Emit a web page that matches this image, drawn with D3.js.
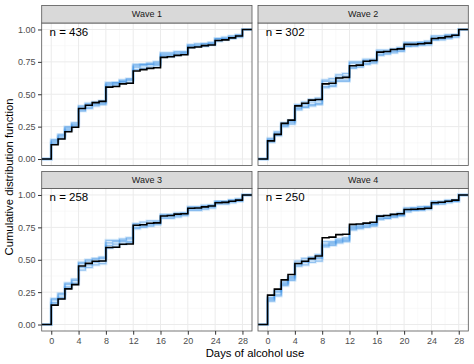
<!DOCTYPE html>
<meta charset="utf-8">
<style>
body { margin: 0; background: #fff; }
svg { font-family: "Liberation Sans", Arial, sans-serif; }
.grid-major { stroke: #ebebeb; stroke-width: 1; }
.grid-minor { stroke: #f5f5f5; stroke-width: 0.6; }
.panel-border { fill: none; stroke: #555; stroke-width: 0.8; }
.strip { fill: #d9d9d9; stroke: #555; stroke-width: 0.8; }
.strip-text { fill: #1a1a1a; font-size: 9px; text-anchor: middle; }
.axis path { display: none; }
.axis line { stroke: #333; }
.axis text { fill: #4d4d4d; font-size: 9px; }
.yrep-halo { fill: none; stroke: #9ccaf5; stroke-width: 3; stroke-opacity: 0.35; }
.yrep { fill: none; stroke: #3b8fe3; stroke-width: 1.2; stroke-opacity: 0.45; }
.obs { fill: none; stroke: #000; stroke-width: 1.6; }
</style>
<svg width="474" height="364"></svg>
<script src="https://d3js.org/d3.v7.min.js"></script>
<script>
var days = [0,1,2,3,4,5,6,7,8,9,10,11,12,13,14,15,16,17,18,19,20,21,22,23,24,25,26,27,28];
var waves = ["Wave 1", "Wave 2", "Wave 3", "Wave 4"];
var nLabels = [436, 302, 258, 250];
var xTicks = [0,4,8,12,16,20,24,28];
var yTicks = [0, 0.25, 0.5, 0.75, 1];

// observed ECDF per wave (value at each day)
var obs1 = [0.11,0.155,0.21,0.245,0.39,0.415,0.435,0.445,0.555,0.56,0.58,0.585,0.68,0.69,0.70,0.705,0.785,0.79,0.80,0.805,0.86,0.865,0.875,0.88,0.915,0.92,0.935,0.95,1];
var obs2 = [0.14,0.19,0.275,0.30,0.41,0.43,0.455,0.46,0.58,0.585,0.625,0.63,0.72,0.725,0.755,0.76,0.825,0.83,0.845,0.85,0.885,0.885,0.89,0.895,0.93,0.935,0.945,0.955,1];
var obs3 = [0.15,0.197,0.275,0.308,0.452,0.472,0.488,0.49,0.594,0.597,0.62,0.622,0.766,0.77,0.782,0.785,0.838,0.842,0.852,0.855,0.897,0.9,0.908,0.915,0.94,0.943,0.952,0.96,1];
var obs4 = [0.227,0.273,0.345,0.386,0.471,0.488,0.509,0.529,0.67,0.675,0.694,0.697,0.773,0.776,0.783,0.79,0.837,0.842,0.85,0.855,0.888,0.89,0.893,0.897,0.94,0.944,0.952,0.96,1];

// replicated ECDFs per wave
var rep1 = [
  [0.13,0.17,0.23,0.26,0.38,0.40,0.42,0.43,0.57,0.58,0.60,0.61,0.71,0.72,0.73,0.73,0.80,0.80,0.81,0.82,0.87,0.87,0.88,0.89,0.92,0.93,0.94,0.95,1],
  [0.14,0.19,0.25,0.28,0.40,0.42,0.43,0.44,0.58,0.59,0.60,0.61,0.72,0.73,0.73,0.74,0.81,0.81,0.82,0.82,0.88,0.88,0.89,0.89,0.93,0.93,0.94,0.95,1],
  [0.12,0.16,0.22,0.25,0.37,0.39,0.41,0.42,0.56,0.57,0.59,0.59,0.69,0.70,0.71,0.72,0.79,0.79,0.80,0.81,0.86,0.87,0.87,0.88,0.91,0.92,0.93,0.94,1],
  [0.15,0.18,0.24,0.27,0.41,0.43,0.44,0.45,0.59,0.59,0.61,0.62,0.73,0.73,0.74,0.75,0.82,0.82,0.83,0.83,0.88,0.89,0.89,0.90,0.93,0.94,0.95,0.96,1]
];
var rep2 = [
  [0.15,0.20,0.27,0.29,0.40,0.42,0.44,0.45,0.60,0.60,0.63,0.64,0.74,0.74,0.76,0.76,0.83,0.83,0.84,0.85,0.89,0.89,0.90,0.90,0.94,0.94,0.95,0.96,1],
  [0.13,0.18,0.26,0.28,0.39,0.40,0.42,0.43,0.56,0.57,0.61,0.61,0.71,0.72,0.74,0.75,0.81,0.82,0.83,0.84,0.87,0.88,0.88,0.89,0.92,0.93,0.94,0.95,1],
  [0.16,0.21,0.28,0.30,0.42,0.44,0.46,0.47,0.61,0.62,0.65,0.66,0.75,0.75,0.77,0.77,0.84,0.84,0.85,0.86,0.90,0.90,0.90,0.91,0.95,0.95,0.96,0.96,1],
  [0.14,0.19,0.25,0.27,0.38,0.40,0.41,0.42,0.55,0.56,0.60,0.60,0.70,0.71,0.73,0.74,0.80,0.81,0.82,0.83,0.87,0.87,0.88,0.88,0.92,0.92,0.93,0.94,1]
];
var rep3 = [
  [0.17,0.21,0.29,0.32,0.44,0.46,0.48,0.49,0.61,0.62,0.64,0.64,0.75,0.76,0.77,0.78,0.83,0.83,0.84,0.85,0.89,0.89,0.90,0.91,0.94,0.94,0.95,0.96,1],
  [0.19,0.23,0.31,0.34,0.47,0.49,0.50,0.51,0.63,0.64,0.65,0.66,0.77,0.77,0.78,0.79,0.84,0.84,0.85,0.86,0.90,0.90,0.91,0.92,0.95,0.95,0.96,0.96,1],
  [0.16,0.20,0.28,0.31,0.42,0.44,0.46,0.47,0.59,0.60,0.62,0.63,0.74,0.75,0.76,0.77,0.82,0.82,0.83,0.84,0.88,0.88,0.89,0.90,0.93,0.93,0.94,0.95,1],
  [0.20,0.24,0.32,0.35,0.48,0.50,0.51,0.52,0.65,0.65,0.66,0.67,0.78,0.79,0.80,0.80,0.85,0.85,0.86,0.86,0.91,0.91,0.92,0.92,0.95,0.95,0.96,0.97,1]
];
var rep4 = [
  [0.20,0.25,0.32,0.36,0.47,0.49,0.51,0.52,0.62,0.63,0.65,0.66,0.75,0.76,0.77,0.77,0.83,0.83,0.84,0.85,0.89,0.90,0.90,0.91,0.94,0.94,0.95,0.96,1],
  [0.18,0.22,0.30,0.34,0.45,0.46,0.48,0.49,0.60,0.61,0.63,0.64,0.73,0.74,0.75,0.76,0.81,0.82,0.83,0.84,0.88,0.88,0.89,0.90,0.93,0.93,0.94,0.95,1],
  [0.21,0.26,0.33,0.37,0.49,0.51,0.52,0.54,0.64,0.64,0.66,0.67,0.76,0.77,0.78,0.78,0.84,0.84,0.85,0.86,0.90,0.90,0.91,0.91,0.95,0.95,0.96,0.96,1],
  [0.19,0.23,0.31,0.35,0.46,0.48,0.50,0.51,0.61,0.62,0.64,0.65,0.74,0.75,0.76,0.77,0.82,0.82,0.83,0.84,0.87,0.88,0.88,0.89,0.93,0.94,0.95,0.95,1]
];

var obsAll = [obs1, obs2, obs3, obs4];
var repAll = [rep1, rep2, rep3, rep4];

var svg = d3.select("svg");
var cols = [[41.7, 252], [258, 468.3]];
var rows = [{strip: 5.5, top: 23, bottom: 165.5}, {strip: 171.5, top: 188.5, bottom: 331}];
var xDom = [-1.4, 29.4], yDom = [-0.05, 1.05];

function stepPoints(vals) {
  var pts = [[xDom[0], 0]];
  days.forEach(function(d, i) { pts.push([d, vals[i]]); });
  pts.push([xDom[1], 1]);
  return pts;
}

waves.forEach(function(w, k) {
  var c = cols[k % 2], r = rows[Math.floor(k / 2)];
  var x = d3.scaleLinear().domain(xDom).range(c);
  var y = d3.scaleLinear().domain(yDom).range([r.bottom, r.top]);
  var g = svg.append("g");

  g.append("clipPath").attr("id", "clip" + k)
    .append("rect").attr("x", c[0]).attr("y", r.top)
    .attr("width", c[1] - c[0]).attr("height", r.bottom - r.top);

  // grid
  [2,6,10,14,18,22,26].forEach(function(v) {
    g.append("line").attr("class", "grid-minor")
      .attr("x1", x(v)).attr("x2", x(v)).attr("y1", r.top).attr("y2", r.bottom);
  });
  [0.125,0.375,0.625,0.875].forEach(function(v) {
    g.append("line").attr("class", "grid-minor")
      .attr("x1", c[0]).attr("x2", c[1]).attr("y1", y(v)).attr("y2", y(v));
  });
  xTicks.forEach(function(v) {
    g.append("line").attr("class", "grid-major")
      .attr("x1", x(v)).attr("x2", x(v)).attr("y1", r.top).attr("y2", r.bottom);
  });
  yTicks.forEach(function(v) {
    g.append("line").attr("class", "grid-major")
      .attr("x1", c[0]).attr("x2", c[1]).attr("y1", y(v)).attr("y2", y(v));
  });

  var line = d3.line().x(function(p) { return x(p[0]); })
    .y(function(p) { return y(p[1]); }).curve(d3.curveStepAfter);

  var lines = g.append("g").attr("clip-path", "url(#clip" + k + ")");
  repAll[k].forEach(function(rv) {
    lines.append("path").attr("class", "yrep-halo").attr("d", line(stepPoints(rv)));
  });
  repAll[k].forEach(function(rv) {
    lines.append("path").attr("class", "yrep").attr("d", line(stepPoints(rv)));
  });
  lines.append("path").attr("class", "obs").attr("d", line(stepPoints(obsAll[k])));

  g.append("rect").attr("class", "panel-border")
    .attr("x", c[0]).attr("y", r.top).attr("width", c[1] - c[0]).attr("height", r.bottom - r.top);

  g.append("rect").attr("class", "strip")
    .attr("x", c[0]).attr("y", r.strip).attr("width", c[1] - c[0]).attr("height", r.top - r.strip);
  g.append("text").attr("class", "strip-text")
    .attr("x", (c[0] + c[1]) / 2).attr("y", (r.strip + r.top) / 2 + 3.2).text(w);

  g.append("text").attr("x", x(-0.25)).attr("y", y(0.95))
    .style("font-size", "11.5px").attr("fill", "#000").text("n = " + nLabels[k]);

  if (k % 2 === 0) {
    g.append("g").attr("class", "axis")
      .attr("transform", "translate(" + c[0] + ",0)")
      .call(d3.axisLeft(y).tickValues(yTicks).tickFormat(d3.format(".2f")).tickSize(3.7).tickPadding(2.5));
  }
  if (k >= 2) {
    g.append("g").attr("class", "axis")
      .attr("transform", "translate(0," + r.bottom + ")")
      .call(d3.axisBottom(x).tickValues(xTicks).tickSize(3.7).tickPadding(2.5));
  }
});

svg.append("text").attr("x", 255).attr("y", 357).attr("text-anchor", "middle")
  .style("font-size", "11.3px").attr("fill", "#000").text("Days of alcohol use");
svg.append("text").attr("transform", "translate(13,177) rotate(-90)")
  .attr("text-anchor", "middle").style("font-size", "11.3px").attr("fill", "#000")
  .text("Cumulative distribution function");
</script>
